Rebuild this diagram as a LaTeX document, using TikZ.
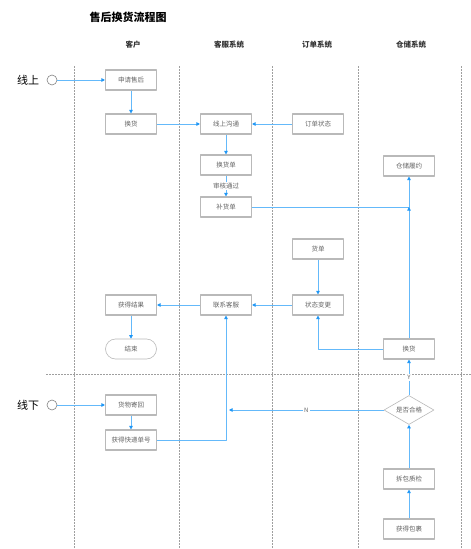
\documentclass[tikz,border=0pt]{standalone}
\usepackage{fontspec}
\setmainfont{Noto Sans CJK SC}
\usetikzlibrary{arrows.meta,shapes.geometric}
\definecolor{flowblue}{RGB}{100,185,250}
\definecolor{tipblue}{RGB}{30,150,245}
\definecolor{boxgray}{RGB}{185,185,185}
\definecolor{txtgray}{RGB}{100,100,100}
\tikzset{
	box/.style={draw=boxgray,line width=1.1pt,fill=white,minimum width=51pt,minimum height=20pt,inner sep=1pt,font=\fontsize{6.5}{7}\selectfont,text=txtgray},
	endbox/.style={box,line width=0.6pt,rounded corners=10pt},
	decision/.style={diamond,draw=boxgray,line width=0.6pt,fill=white,minimum width=50pt,minimum height=29pt,aspect=1.7,inner sep=0pt,font=\fontsize{6.5}{7}\selectfont,text=txtgray},
	flow/.style={-{Triangle[length=3.5pt,width=3.5pt,color=tipblue]},draw=flowblue,line width=0.8pt},
	lane/.style={draw=gray!75,line width=0.8pt,dash pattern=on 1.5pt off 1.5pt},
	lanehead/.style={font=\bfseries\fontsize{7.5}{8}\selectfont,text=black!80},
	start/.style={circle,draw=gray,line width=0.6pt,minimum size=10pt,inner sep=0pt},
	flowlabel/.style={fill=white,inner sep=1pt,font=\fontsize{6.5}{7}\selectfont,text=txtgray}
}
\begin{document}
\begin{tikzpicture}[line cap=butt,line join=round,x=1pt,y=-1pt]
		\useasboundingbox (0,0) rectangle (471,549);
		% lanes
		\foreach \lx in {74,179,272,358,461}
			\draw [lane] (\lx,66) -- (\lx,549);
		\draw [lane] (46,374) -- (471,374);
		\node (title) at (128,17) {\bfseries\fontsize{11}{12}\selectfont 售后换货流程图};
		\node [lanehead] (hcust) at (133,45) {客户};
		\node [lanehead] (hserv) at (229,45) {客服系统};
		\node [lanehead] (horder) at (317,45) {订单系统};
		\node [lanehead] (hstore) at (411,45) {仓储系统};
		\node [font=\fontsize{11}{12}\selectfont] (online) at (28,80) {线上};
		\node [font=\fontsize{11}{12}\selectfont] (offline) at (28,405) {线下};
		\node [start] (son) at (52,80) {};
		\node [start] (soff) at (52,405) {};
		% boxes
		\node [box] (apply) at (131,80) {申请售后};
		\node [box] (swapc) at (131,124) {换货};
		\node [box] (talk) at (226,124) {线上沟通};
		\node [box] (ostate) at (318,124) {订单状态};
		\node [box] (swapform) at (226,165) {换货单};
		\node [box] (refill) at (226,207) {补货单};
		\node [box] (fulfil) at (409,166) {仓储履约};
		\node [box] (bill) at (318,249) {货单};
		\node [box] (stchg) at (318,305) {状态变更};
		\node [box] (contact) at (226,305) {联系客服};
		\node [box] (result) at (131,305) {获得结果};
		\node [endbox] (finish) at (131,349) {结束};
		\node [box] (swapw) at (409,349) {换货};
		\node [box] (ret) at (131,405) {货物寄回};
		\node [box] (expno) at (131,440) {获得快递单号};
		\node [decision] (ok) at (409,410) {是否合格};
		\node [box] (check) at (409,479) {拆包质检};
		\node [box] (pkg) at (409,529) {获得包裹};
		\coordinate (join) at (swapw |- refill);
		\coordinate (nend) at (229,410);
		% connectors
		\draw [flow] (son) -- (apply);
		\draw [flow] (apply) -- (swapc);
		\draw [flow] (swapc) -- (talk);
		\draw [flow] (ostate) -- (talk);
		\draw [flow] (talk) -- (swapform);
		\draw [flow] (swapform) -- node[flowlabel] {审核通过} (refill);
		\draw [flow] (refill) -- (join) -- (fulfil);
		\draw [flow] (swapw) -- (join);
		\draw [flow] (bill) -- (stchg);
		\draw [flow] (stchg) -- (contact);
		\draw [flow] (contact) -- (result);
		\draw [flow] (result) -- (finish);
		\draw [flow] (swapw.west) -| (stchg.south);
		\draw [flow] (soff) -- (ret);
		\draw [flow] (ret) -- (expno);
		\draw [flow] (expno.east) -| (contact.south);
		\draw [flow] (pkg) -- (check);
		\draw [flow] (check) -- (ok);
		\draw [flow] (ok) -- node[flowlabel,font=\fontsize{6}{7}\selectfont] {Y} (swapw);
		\draw [flow] (ok) -- node[flowlabel,font=\fontsize{6}{7}\selectfont] {N} (nend);
	\end{tikzpicture}
\end{document}
